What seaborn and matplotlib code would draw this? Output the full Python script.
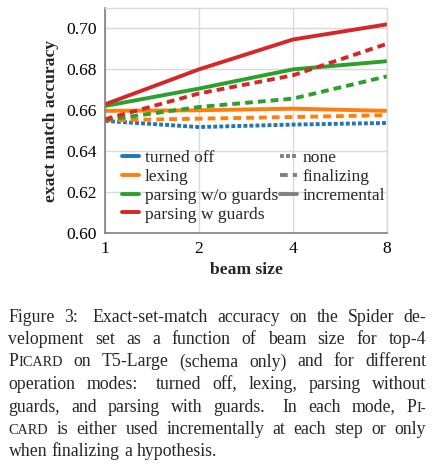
import matplotlib
matplotlib.use("Agg")
import matplotlib.pyplot as plt
from matplotlib.lines import Line2D
import seaborn as sns
import pandas as pd

# ---- data ----
beam_sizes = [1, 2, 4, 8]
modes = ["turned off", "lexing", "parsing w/o guards", "parsing w guards"]
applications = ["none", "finalizing", "incremental"]
turned_off_none = [0.6548, 0.6518, 0.6530, 0.6538]
lexing_finalizing = [0.6551, 0.6559, 0.6567, 0.6576]
lexing_incremental = [0.6597, 0.6600, 0.6608, 0.6597]
pwo_finalizing = [0.6552, 0.6616, 0.6657, 0.6766]
pwo_incremental = [0.6621, 0.6706, 0.6800, 0.6840]
pw_finalizing = [0.6556, 0.6682, 0.6771, 0.6925]
pw_incremental = [0.6629, 0.6800, 0.6946, 0.7020]
y_ticks = [0.60, 0.62, 0.64, 0.66, 0.68, 0.70]
x_tick_labels = ["1", "2", "4", "8"]

series = [
    ("turned off", "none", turned_off_none),
    ("lexing", "finalizing", lexing_finalizing),
    ("lexing", "incremental", lexing_incremental),
    ("parsing w/o guards", "finalizing", pwo_finalizing),
    ("parsing w/o guards", "incremental", pwo_incremental),
    ("parsing w guards", "finalizing", pw_finalizing),
    ("parsing w guards", "incremental", pw_incremental),
]
rows = []
for mode, app, vals in series:
    for b, v in zip(beam_sizes, vals):
        rows.append({"beam": b, "acc": v, "mode": mode, "app": app})
df = pd.DataFrame(rows)

# ---- style ----
sns.set_style("white")
plt.rcParams["font.family"] = ["Liberation Serif", "DejaVu Serif"]

colors = ["#1f77b4", "#ff7f0e", "#2ca02c", "#d62728"]
palette = dict(zip(modes, colors))
dashes = {"none": (1.0, 0.55), "finalizing": (2.0, 1.3), "incremental": ""}

FS = 12.6
W, H = 434, 466
fig = plt.figure(figsize=(W / 100, H / 100), dpi=100)
ax = fig.add_axes([105 / W, 1 - 233 / H, (387 - 105) / W, (233 - 8) / H])

sns.lineplot(data=df, x="beam", y="acc", hue="mode", style="app",
             hue_order=modes, style_order=applications,
             palette=palette, dashes=dashes, linewidth=2.8,
             legend=False, ax=ax)

ax.set_xscale("log", base=2)
ax.set_xlim(1, 8)
ax.set_ylim(0.60, 0.71)
ax.set_xticks(beam_sizes)
ax.set_xticklabels(x_tick_labels)
ax.minorticks_off()
ax.set_yticks(y_ticks)
ax.set_yticklabels([f"{t:.2f}" for t in y_ticks])
ax.grid(True, color="#d9d9d9", linewidth=1.0)
ax.set_axisbelow(True)
for s in ["left", "bottom"]:
    ax.spines[s].set_color("#808080")
    ax.spines[s].set_linewidth(1.2)
for s in ["top", "right"]:
    ax.spines[s].set_color("#d9d9d9")
    ax.spines[s].set_linewidth(1.0)
ax.tick_params(axis="both", direction="out", length=4.5, width=1.0,
               color="#808080", labelsize=FS, pad=1.5, labelcolor="black")
ax.set_xlabel("beam size", fontsize=FS, fontweight="bold", labelpad=3)
ax.set_ylabel("exact match accuracy", fontsize=FS, fontweight="bold", labelpad=5)

# legend: col1 = modes, col2 = applications
handles = [Line2D([], [], color=c, lw=2.8) for c in colors]
handles += [Line2D([], [], color="#808080", lw=2.8, dashes=(1.0, 0.55)),
            Line2D([], [], color="#808080", lw=2.8, dashes=(2.0, 1.3)),
            Line2D([], [], color="#808080", lw=2.8)]
blank = Line2D([], [], color="none")
h_all = handles + [blank]
l_all = modes + applications + [""]
leg = ax.legend(h_all, l_all, ncol=2, frameon=False, fontsize=FS,
                handlelength=0.95, handletextpad=0.35, columnspacing=0.12,
                labelspacing=0.14, borderaxespad=0.0, borderpad=0.0,
                loc="upper left", bbox_to_anchor=(0.06, 0.368))

# ---- caption (justified) ----
S = 12.8
SC = 10.3
cap_lines = [
    [[("Figure", S)], [("3:", S)], [("Exact-set-match", S)], [("accuracy", S)], [("on", S)], [("the", S)], [("Spider", S)], [("de-", S)]],
    [[("velopment", S)], [("set", S)], [("as", S)], [("a", S)], [("function", S)], [("of", S)], [("beam", S)], [("size", S)], [("for", S)], [("top-4", S)]],
    [[("P", S), ("ICARD", SC)], [("on", S)], [("T5-Large", S)], [("(schema", S)], [("only)", S)], [("and", S)], [("for", S)], [("different", S)]],
    [[("operation", S)], [("modes:", S)], [("turned", S)], [("off,", S)], [("lexing,", S)], [("parsing", S)], [("without", S)]],
    [[("guards,", S)], [("and", S)], [("parsing", S)], [("with", S)], [("guards.", S)], [("In", S)], [("each", S)], [("mode,", S)], [("P", S), ("I-", SC)]],
    [[("CARD", SC)], [("is", S)], [("either", S)], [("used", S)], [("incrementally", S)], [("at", S)], [("each", S)], [("step", S)], [("or", S)], [("only", S)]],
    [[("when", S)], [("finalizing", S)], [("a", S)], [("hypothesis.", S)]],
]
left_px, right_px = 8.5, 426.0
base0, pitch = 321.5, 22.5
renderer = fig.canvas.get_renderer()


def seg_width(txt, size):
    t = fig.text(0, 0, txt, fontsize=size)
    w = t.get_window_extent(renderer).width
    t.remove()
    return w


space_w = seg_width("a b", S) - seg_width("ab", S)
for i, words in enumerate(cap_lines):
    y = 1 - (base0 + i * pitch) / H
    widths = [sum(seg_width(t, s) for t, s in w) for w in words]
    weights = [1.6 if w[-1][0].endswith((":", ".")) else 1.0 for w in words[:-1]]
    justify = i < len(cap_lines) - 1
    if justify:
        unit = (right_px - left_px - sum(widths)) / sum(weights)
        gaps = [unit * wt for wt in weights]
    else:
        gaps = [space_w] * len(weights)
    x = left_px
    for k, (w, wd) in enumerate(zip(words, widths)):
        xx = x
        for t, s in w:
            fig.text(xx / W, y, t, fontsize=s, va="baseline", ha="left")
            xx += seg_width(t, s)
        if k < len(gaps):
            x += wd + gaps[k]

fig.savefig("out.png", dpi=100)
